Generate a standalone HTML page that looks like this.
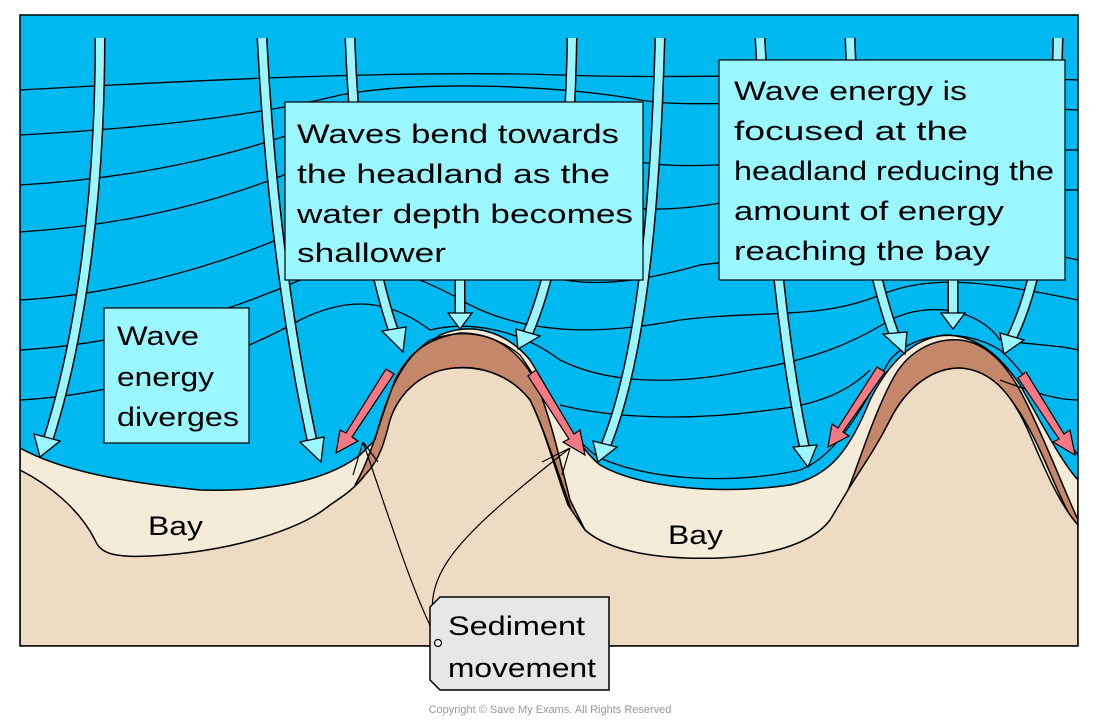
<!DOCTYPE html>
<html><head><meta charset="utf-8"><style>html,body{margin:0;padding:0;background:#fff}svg{display:block}text{font-family:"Liberation Sans","DejaVu Sans",sans-serif}</style></head>
<body>
<svg width="1100" height="727" viewBox="0 0 1100 727" xmlns="http://www.w3.org/2000/svg">
<defs><clipPath id="c"><rect x="20" y="15" width="1058" height="631"/></clipPath></defs>
<g clip-path="url(#c)">
<rect x="20" y="15" width="1058" height="631" fill="#00B9F1"/>
<path d="M20,448 C60,470 120,482 200,490 C280,492 330,478 360,455 L375,440 C390,400 410,355 440,335 C470,322 505,330 530,360 C555,400 575,445 600,465 C640,488 720,495 790,485 C830,476 850,450 870,400 C890,360 915,338 945,335 C975,335 1000,355 1020,385 C1040,420 1060,460 1078,480 L1078,646 L20,646 Z" fill="#F4ECD8" stroke="#000" stroke-width="1.5"/>
<path d="M355,485 C370,460 380,420 395,380 C410,350 430,338 460,333 C490,333 515,345 535,380 C550,415 560,460 570,500 L585,530 L575,520 C560,480 545,430 530,400 C510,375 480,365 455,368 C425,372 405,395 395,430 C388,455 380,470 355,485 Z" fill="#C4876A" stroke="#000" stroke-width="1.5"/>
<path d="M848,490 C860,460 875,410 895,375 C910,350 935,338 960,340 C990,343 1010,370 1025,400 C1045,440 1060,480 1078,520 L1078,530 C1060,500 1050,470 1035,440 C1015,400 995,372 960,368 C930,368 905,390 890,420 C875,450 862,475 848,490 Z" fill="#C4876A" stroke="#000" stroke-width="1.5"/>
<path d="M20,470 C50,485 80,510 95,540 C100,552 110,558 150,556 C230,552 300,530 330,505 C345,495 355,488 365,475 C380,460 385,440 390,420 C400,390 425,370 455,368 C485,366 512,377 530,400 C545,430 555,470 568,505 L585,530 C610,552 660,560 720,558 C780,555 815,540 830,520 L848,490 C860,470 875,450 890,420 C905,390 930,368 960,368 C995,370 1015,400 1030,435 C1045,470 1060,505 1078,525 L1078,646 L20,646 Z" fill="#EDDCC3" stroke="#000" stroke-width="1.5"/>
<g fill="none" stroke="#000" stroke-width="1.3">
<path d="M20,90 C200,80 400,70 560,75 C700,80 850,70 1078,80"/>
<path d="M20,135 C150,128 260,115 340,95 C420,80 560,85 640,100 C700,110 760,95 1078,110"/>
<path d="M20,185 C140,178 240,155 330,120 C420,95 520,110 600,150 C680,185 760,150 1078,150"/>
<path d="M20,232 C130,225 230,200 320,160 C400,130 480,140 560,185 C640,230 720,200 800,190 C900,180 1000,190 1078,190"/>
<path d="M20,300 C110,295 210,270 300,230 C380,200 440,215 500,255 C560,295 630,285 700,265 C780,255 850,255 900,245 C960,235 1010,245 1078,260"/>
<path d="M20,350 C110,345 210,320 300,280 C360,255 410,270 470,305 C530,335 600,335 680,320 C760,310 820,320 880,295 C930,275 980,280 1078,300"/>
<path d="M20,400 C110,395 220,365 300,320 C350,295 390,300 430,330 C470,320 520,330 560,360 C610,385 680,385 750,370 C810,360 850,345 890,320 C930,300 980,310 1000,340 C1030,345 1060,345 1078,350"/>
<path d="M560,405 C620,420 700,420 770,410 C820,405 850,390 870,370 M1000,380 C1040,395 1060,400 1078,400"/>
<path d="M375,440 C385,400 400,360 430,340 C455,330 490,330 520,355 C545,390 570,440 600,458 C650,480 730,485 800,470 C840,455 865,400 890,360 C910,335 960,325 1000,350 C1030,375 1050,420 1078,455"/>
</g>
<g fill="none">
<g stroke="#000" stroke-width="11">
<path d="M100,38 C100,200 80,340 48,440"/><path d="M262,38 C270,200 290,340 313,445"/><path d="M350,38 C355,180 375,280 395,335"/><path d="M460,280 L460,315"/><path d="M572,38 C570,180 555,270 528,333"/><path d="M660,38 C655,220 640,360 606,445"/><path d="M760,38 C770,220 785,360 805,450"/><path d="M850,38 C855,180 870,270 895,337"/><path d="M953,280 L953,315"/><path d="M1058,38 C1055,180 1040,280 1012,337"/>
</g>
<g stroke="#9AF6FF" stroke-width="8">
<path d="M100,38 C100,200 80,340 48,440"/><path d="M262,38 C270,200 290,340 313,445"/><path d="M350,38 C355,180 375,280 395,335"/><path d="M460,280 L460,315"/><path d="M572,38 C570,180 555,270 528,333"/><path d="M660,38 C655,220 640,360 606,445"/><path d="M760,38 C770,220 785,360 805,450"/><path d="M850,38 C855,180 870,270 895,337"/><path d="M953,280 L953,315"/><path d="M1058,38 C1055,180 1040,280 1012,337"/>
</g>
<g fill="#9AF6FF" stroke="#000" stroke-width="1.3">
<polygon points="34,434 60,441 40,457"/><polygon points="300,442 324,437 321,462"/><polygon points="382,331 406,327 403,352"/><polygon points="448,313 472,313 460,329"/><polygon points="516,329 540,336 518,349"/><polygon points="593,441 617,447 598,462"/><polygon points="793,447 817,445 808,467"/><polygon points="883,334 907,332 905,354"/><polygon points="941,313 965,313 953,329"/><polygon points="1000,333 1024,340 1004,354"/>
</g>
</g>
<g fill="#F47985" stroke="#000" stroke-width="1.2">
<polygon points="386,369 394,374 352,437 358,441 336,453 340,430 346,433"/>
<polygon points="528,376 536,370 574,434 580,430 585,455 563,442 569,439"/>
<polygon points="877,367 885,372 843,432 849,436 828,447 832,424 838,428"/>
<polygon points="1018,378 1026,372 1064,434 1070,430 1075,455 1053,442 1059,439"/>
</g>
<g fill="none" stroke="#000" stroke-width="1.2">
<path d="M438,641 C415,600 390,520 363,442 M363,442 L353,475 M363,442 L378,462"/>
<path d="M438,641 C420,580 440,550 570,448 M570,448 L542,462 M570,448 L562,475"/>
</g>
</g>
<rect x="20" y="15" width="1058" height="631" fill="none" stroke="#000" stroke-width="1.5"/>
<rect x="285" y="102" width="358" height="178" fill="#9AF6FF" stroke="#000" stroke-width="1.2"/>
<g font-size="27" fill="#000">
<text x="297" y="143" textLength="322" lengthAdjust="spacingAndGlyphs">Waves bend towards</text>
<text x="297" y="183" textLength="313" lengthAdjust="spacingAndGlyphs">the headland as the</text>
<text x="297" y="223" textLength="336" lengthAdjust="spacingAndGlyphs">water depth becomes</text>
<text x="297" y="262" textLength="149" lengthAdjust="spacingAndGlyphs">shallower</text>
</g>
<rect x="719" y="60" width="346" height="220" fill="#9AF6FF" stroke="#000" stroke-width="1.2"/>
<g font-size="27" fill="#000">
<text x="734" y="100" textLength="233" lengthAdjust="spacingAndGlyphs">Wave energy is</text>
<text x="734" y="140" textLength="234" lengthAdjust="spacingAndGlyphs">focused at the</text>
<text x="734" y="180" textLength="320" lengthAdjust="spacingAndGlyphs">headland reducing the</text>
<text x="734" y="220" textLength="270" lengthAdjust="spacingAndGlyphs">amount of energy</text>
<text x="734" y="260" textLength="256" lengthAdjust="spacingAndGlyphs">reaching the bay</text>
</g>
<rect x="104" y="308" width="145" height="135" fill="#9AF6FF" stroke="#000" stroke-width="1.2"/>
<g font-size="27" fill="#000">
<text x="117" y="345" textLength="82" lengthAdjust="spacingAndGlyphs">Wave</text>
<text x="117" y="386" textLength="97" lengthAdjust="spacingAndGlyphs">energy</text>
<text x="117" y="426" textLength="122" lengthAdjust="spacingAndGlyphs">diverges</text>
<text x="148" y="535" textLength="55" lengthAdjust="spacingAndGlyphs">Bay</text>
<text x="668" y="544" textLength="55" lengthAdjust="spacingAndGlyphs">Bay</text>
</g>
<polygon points="440,597 609,597 609,690 440,690 430,680 430,607" fill="#E7E7E7" stroke="#000" stroke-width="1.5"/>
<circle cx="438" cy="643" r="3.5" fill="#fff" stroke="#000" stroke-width="1.2"/>
<g font-size="27" fill="#000">
<text x="448" y="635" textLength="137" lengthAdjust="spacingAndGlyphs">Sediment</text>
<text x="448" y="677" textLength="148" lengthAdjust="spacingAndGlyphs">movement</text>
</g>
<text x="550" y="713" font-size="11" fill="#999" text-anchor="middle">Copyright © Save My Exams. All Rights Reserved</text>
</svg>
</body></html>
